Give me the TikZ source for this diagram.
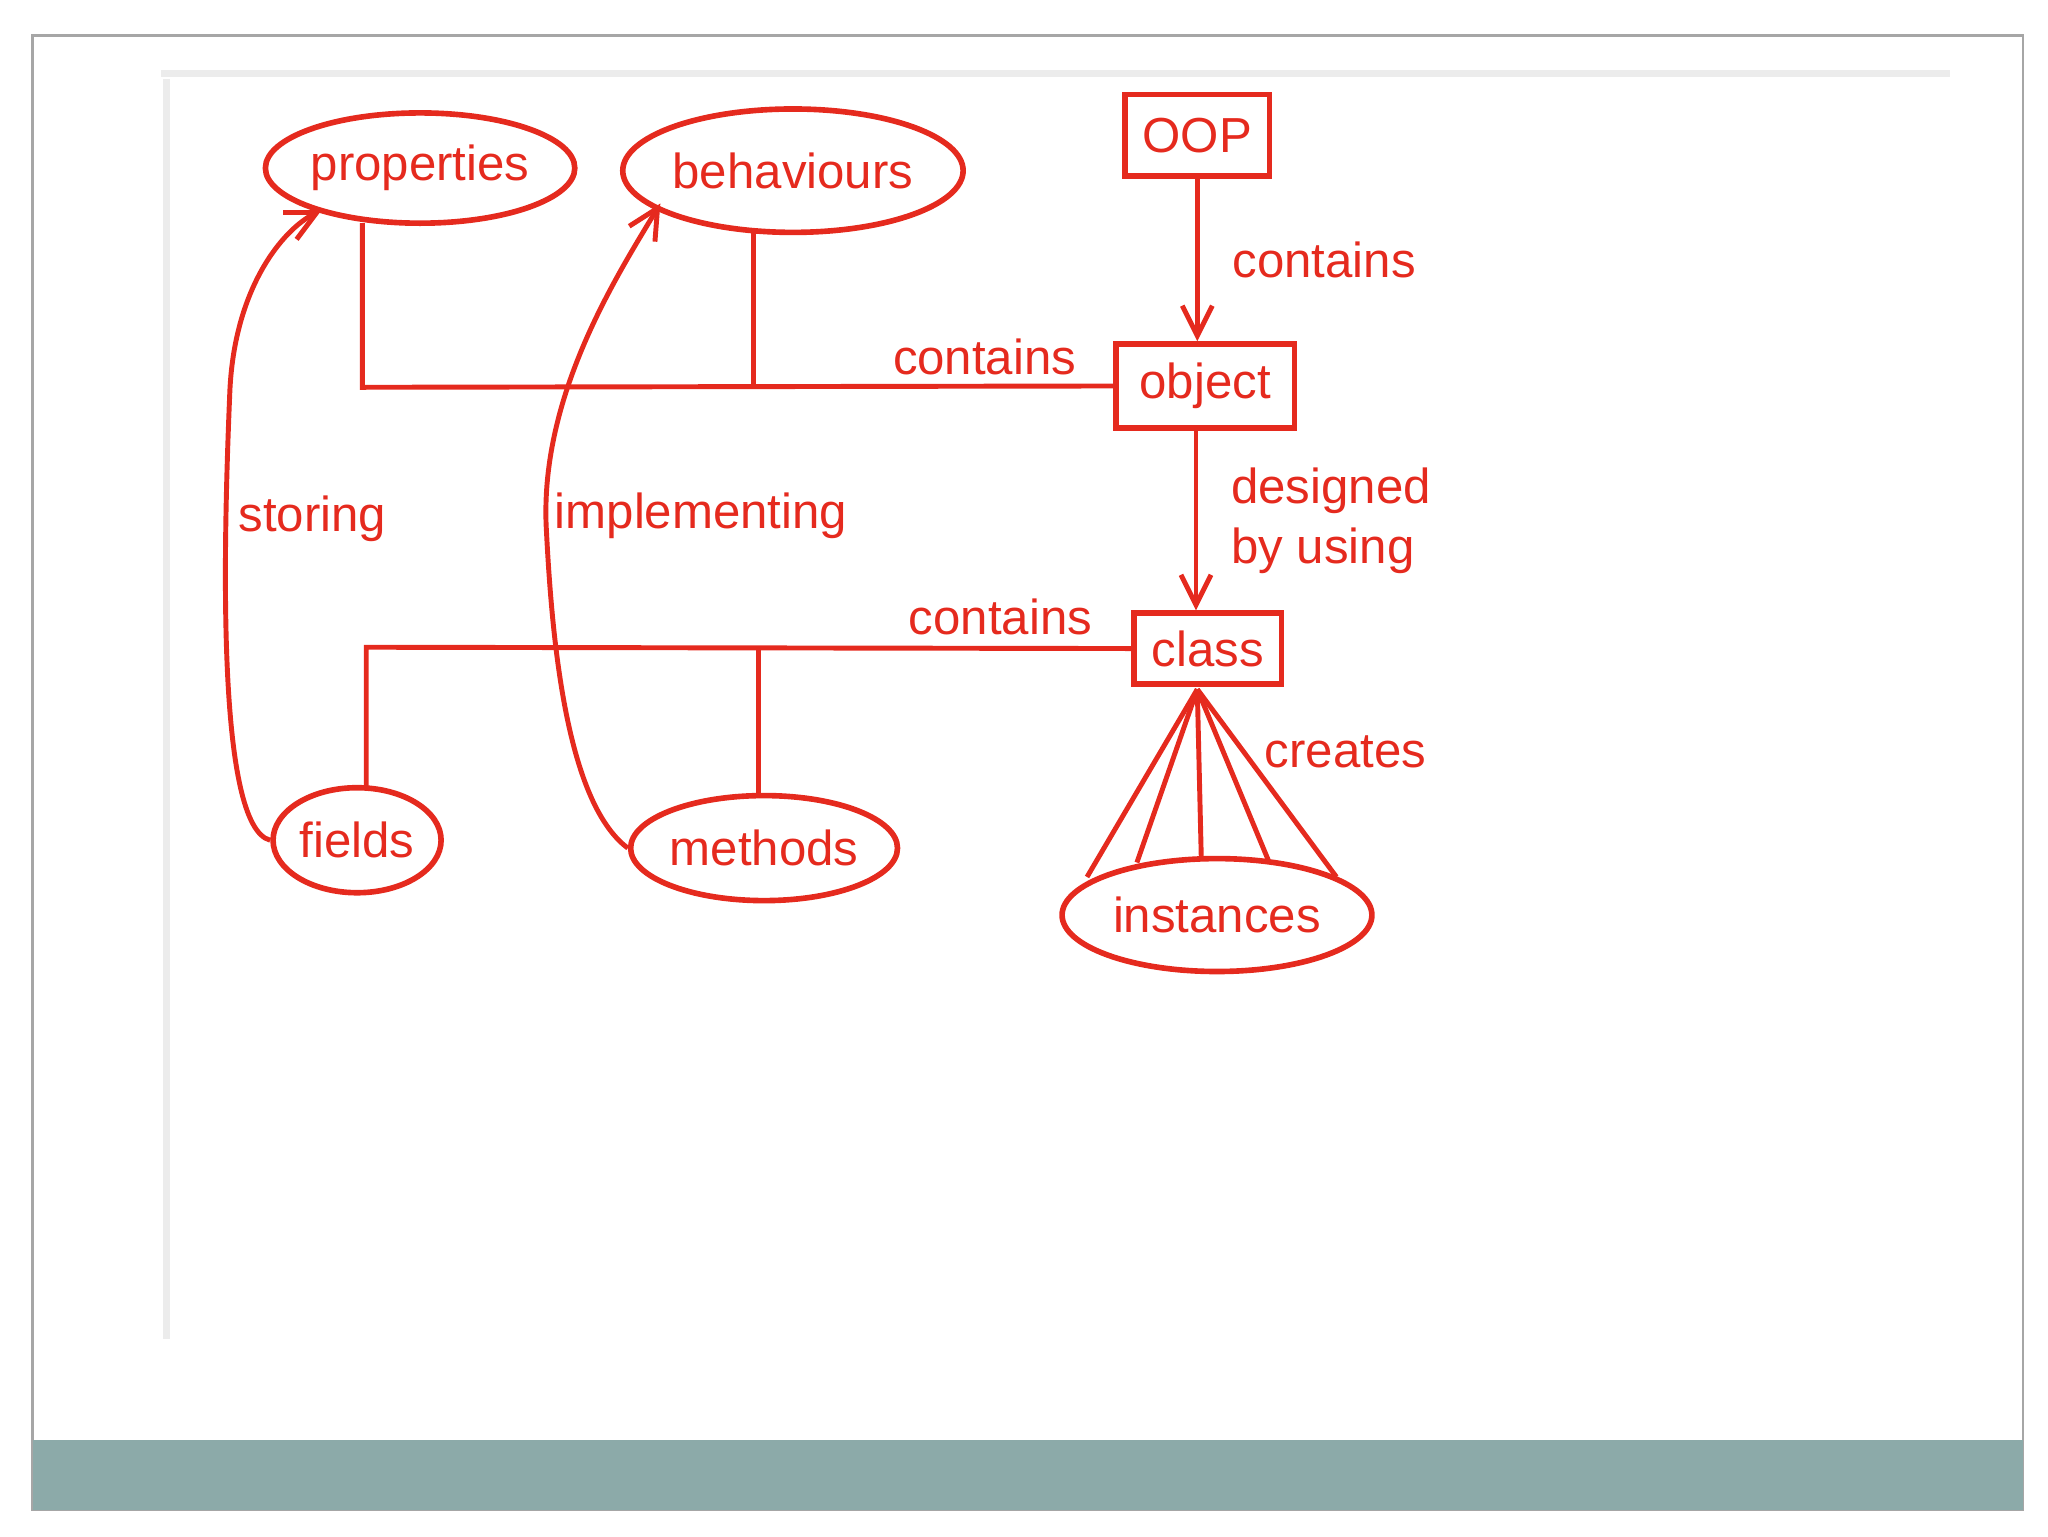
\documentclass[tikz,border=0pt]{standalone}
\usepackage{fontspec}
\setmainfont{Liberation Sans}
\usepackage{xcolor}
\usetikzlibrary{shapes,arrows.meta,calc}
\definecolor{pen}{HTML}{E52A1E}
\definecolor{band}{HTML}{8CAAA9}
\tikzset{
  box/.style={draw=pen,line width=1.6pt,rectangle,minimum width=#1*0.1313mm,inner sep=3pt},
  blob/.style 2 args={draw=pen,line width=1.6pt,ellipse,inner sep=0pt,minimum width=#1*0.1313mm,minimum height=#2*0.1313mm},
  lab/.style={text=pen,font=\fontsize{14}{17}\selectfont,align=left},
  wire/.style={draw=pen,line width=1.4pt},
  arr/.style={wire,-{Straight Barb[length=3mm,width=3mm]}}
}
\begin{document}
\begin{tikzpicture}[x=0.1313mm,y=-0.1313mm]
				\useasboundingbox (0,0) rectangle (1560,1170);
				\draw[gray!70,line width=0.8pt] (25,27) rectangle (1541,1150);
				\fill[band] (25,1097) rectangle (1541,1150);
				\draw[gray!15,line width=2pt] (127,60) -- (127,1020);
				\draw[gray!15,line width=2pt] (123,56) -- (1485,56);
				% nodes
				\node[blob={224}{84},lab] (prop) at (320,128) {properties};
				\node[blob={244}{94},lab] (behav) at (604,130) {behaviours};
				\node[blob={128}{80},lab] (fields) at (272,640) {fields};
				\node[blob={172}{80},lab] (meth) at (582,646) {methods};
				\node[blob={236}{86},lab] (inst) at (927,697) {instances};
				\node[box=110,minimum height=62*0.1313mm,lab] (oop) at (912,103) {OOP};
				\node[box=136,minimum height=64*0.1313mm,lab] (obj) at (918,294) {object};
				\node[box=112,minimum height=54*0.1313mm,lab] (cls) at (920,494) {class};
				% arrows down
				\draw[arr] (oop.south) -- node[lab,right=6pt] {contains} (oop.south |- obj.north);
				\draw[arr] (obj.south -| 911,0) -- node[lab,right=6pt] {designed\\by using} (cls.north -| 911,0);
				% object contains
				\draw[wire] (obj.west) -- (276,295) -- (276,170);
				\draw[wire] (574,295) -- (574,177);
				\node[lab] (c1) at (750,272) {contains};
				% class contains
				\draw[wire] (cls.west) -- (279,493) -- (279,601);
				\draw[wire] (578,493) -- (578,606);
				\node[lab] (c2) at (762,470) {contains};
				% storing / implementing
				\draw[arr] (fields.west) .. controls (165,630) and (170,420) .. (175,300) .. controls (178,220) and (215,175) .. (245,160);
				\node[lab] (st) at (238,395) {storing};
				\draw[arr] (meth.west) .. controls (430,610) and (420,480) .. (416,400) .. controls (412,300) and (470,210) .. (503,155);
				\node[lab] (imp) at (534,393) {implementing};
				% creates
				\coordinate (apex) at (912,525);
				\foreach \p in {(828,668),(866,657),(915,652),(966,655),(1018,668)}
				\draw[wire] (apex) -- \p;
				\node[lab] (cr) at (1025,573) {creates};
\end{tikzpicture}
\end{document}
